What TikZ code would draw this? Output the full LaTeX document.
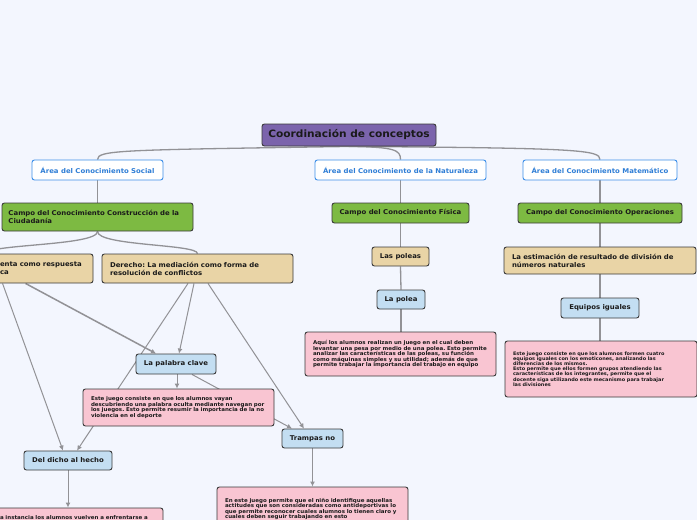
\documentclass[tikz,border=0pt]{standalone}
\usepackage{fontspec}
\setmainfont[FakeStretch=1.05]{DejaVu Sans}
\usetikzlibrary{arrows.meta}
\pgfdeclarelayer{bg}
\pgfdeclarelayer{lines}
\pgfsetlayers{bg,lines,main}
\definecolor{bgc}{HTML}{F3F6FE}
\definecolor{rootc}{HTML}{7B64AC}
\definecolor{areab}{HTML}{3C8EE8}
\definecolor{areat}{HTML}{2F7ED6}
\definecolor{greenc}{HTML}{7DBA42}
\definecolor{tanc}{HTML}{E9D4A6}
\definecolor{bluec}{HTML}{C3DEF2}
\definecolor{pinkc}{HTML}{F9C5D2}
\definecolor{bord}{HTML}{3A3A3A}
\definecolor{txt}{HTML}{1A1A1A}
\definecolor{linec}{HTML}{929296}
\newcommand\myfA{\fontsize{6.6}{8}\selectfont\bfseries}
\newcommand\myfP{\fontsize{5.25}{5.5}\selectfont\bfseries}
\newcommand\myfQ{\fontsize{4.75}{5.2}\selectfont\bfseries}
\frenchspacing
\begin{document}
\begin{tikzpicture}[x=1pt,y=-1pt,
  box/.style={rounded corners=2.5pt, line width=0.9pt, draw=bord, inner sep=0pt, text=txt},
  rootbox/.style={box, fill=rootc, minimum width=174pt, minimum height=22pt, font=\fontsize{10.1}{11}\selectfont\bfseries},
  areabox/.style={rounded corners=2.5pt, line width=0.9pt, draw=areab, fill=white, text=areat, inner sep=0pt, minimum height=20pt, font=\myfA},
  greenbox/.style={box, fill=greenc, font=\myfA},
  tanbox/.style={box, fill=tanc, font=\myfA},
  bluebox/.style={box, fill=bluec, font=\myfA},
  pinkbox/.style={box, fill=pinkc, font=\myfP, align=left, inner xsep=8pt},
  tree/.style={draw=linec, line width=1.3pt},
  arr/.style={draw=linec, line width=1pt, -{Latex[length=5pt,width=5pt]}}
]
\useasboundingbox (0,0) rectangle (697,520);
\clip (0,0) rectangle (697,520);

% level 0-1
\node[rootbox] (root) at (349,135) {Coordinación de conceptos};
\node[areabox, minimum width=131pt] (aS) at (97.5,170) {Área del Conocimiento Social};
\node[areabox, minimum width=171pt] (aN) at (400.5,170) {Área del Conocimiento de la Naturaleza};
\node[areabox, minimum width=154pt] (aM) at (600,170) {Área del Conocimiento Matemático};

% green
\node[greenbox, text width=178pt, inner xsep=6.5pt, align=left, minimum height=28pt] (gC) at (97.5,217) {Campo del Conocimiento Construcción de la\\Ciudadanía};
\node[greenbox, minimum width=137pt, minimum height=20pt] (gF) at (400.5,213) {Campo del Conocimiento Física};
\node[greenbox, minimum width=164pt, minimum height=20pt] (gO) at (600,213) {Campo del Conocimiento Operaciones};

% tan
\node[tanbox, text width=86pt, inner xsep=7pt, align=left, minimum height=29pt] (tL) at (43,268.5) {enta como respuesta\\ca};
\node[tanbox, text width=175pt, inner xsep=8pt, align=left, minimum height=29pt] (tD) at (197.5,268.5) {Derecho: La mediación como forma de\\resolución de conflictos};
\node[tanbox, minimum width=57pt, minimum height=19pt] (tP) at (400.5,256.5) {Las poleas};
\node[tanbox, text width=176pt, inner xsep=8pt, align=left, minimum height=27pt] (tE) at (600,260.5) {La estimación de resultado de división de\\números naturales};

% blue
\node[bluebox, minimum width=48pt, minimum height=19pt] (bPo) at (401,299.5) {La polea};
\node[bluebox, minimum width=78pt, minimum height=20pt] (bEq) at (600,308) {Equipos iguales};
\node[bluebox, minimum width=80pt, minimum height=20pt] (bPa) at (176,364) {La palabra clave};
\node[bluebox, minimum width=88pt, minimum height=19pt] (bDi) at (68,460.5) {Del dicho al hecho};
\node[bluebox, minimum width=61pt, minimum height=19pt] (bTr) at (312.5,438.5) {Trampas no};

% pink
\node[pinkbox, text width=175pt, minimum height=37pt] (pPa) at (178.5,407.5) {Este juego consiste en que los alumnos vayan\\descubriendo una palabra oculta mediante navegan por\\los juegos. Esto permite resumir la importancia de la no\\violencia en el deporte};
\node[pinkbox, text width=175pt, minimum height=44pt] (pPo) at (400.5,354) {Aquí los alumnos realizan un juego en el cual deben\\levantar una pesa por medio de una polea. Esto permite\\analizar las características de las poleas, su función\\como máquinas simples y su utilidad; además de que\\permite trabajar la importancia del trabajo en equipo};
\node[pinkbox, font=\myfQ, text width=176pt, minimum height=56pt] (pEq) at (601,369) {Este juego consiste en que los alumnos formen cuatro\\equipos iguales con los emoticones, analizando las\\diferencias de los mismos.\\Esto permite que ellos formen grupos atendiendo las\\características de los integrantes, permite que el\\docente siga utilizando este mecanismo para trabajar\\las divisiones};
\node[pinkbox, text width=175pt, minimum height=44pt] (pTr) at (312.5,509) {En este juego permite que el niño identifique aquellas\\actitudes que son consideradas como antideportivas lo\\que permite reconocer cuales alumnos lo tienen claro y\\cuales deben seguir trabajando en esto};
\node[pinkbox, text width=155pt, minimum height=20pt] (pDi) at (77.5,518) {a instancia los alumnos vuelven a enfrentarse a};

\coordinate (tLtop) at (-15,254);

\begin{pgfonlayer}{bg}
\fill[bgc] (-20,-20) rectangle (720,540);
\end{pgfonlayer}

\begin{pgfonlayer}{lines}
% curved tree lines
\draw[tree] (root.south) .. controls (120,150) and (97.5,150) .. (aS.north);
\draw[tree] (root.south) .. controls (395,147) and (400.5,150) .. (aN.north);
\draw[tree] (root.south) .. controls (580,148) and (600,150) .. (aM.north);
\draw[tree] (gC.south) .. controls (97.5,246) and (197.5,244) .. (tD.north);
\draw[tree] (gC.south) .. controls (97.5,246) and (-15,244) .. (tLtop);
% straight tree lines
\draw[tree] (aS.south) -- (gC.north);
\draw[tree] (aN.south) -- (gF.north);
\draw[tree] (gF.south) -- (tP.north);
\draw[tree] (tP.south) -- (bPo.north);
\draw[tree] (bPo.south) -- (bPo.south |- pPo.north);
\draw[tree] (aM.south) -- (gO.north);
\draw[tree] (gO.south) -- (tE.north);
\draw[tree] (tE.south) -- (bEq.north);
\draw[tree] (bEq.south) -- (bEq.south |- pEq.north);
% arrows
\draw[arr] ([xshift=10pt]tL.south west) -- ([xshift=-5pt]bDi.north);
\draw[arr, line width=1.5pt] ([xshift=33pt]tL.south west) -- ([xshift=-20pt]bPa.north);
\draw[arr] ([xshift=-3.5pt]tD.south) -- ([xshift=3pt]bPa.north);
\draw[arr] ([xshift=-9.5pt]tD.south) -- ([xshift=9pt]bDi.north);
\draw[arr] ([xshift=10.5pt]tD.south) -- ([xshift=-8.5pt]bTr.north);
\draw[arr] ([xshift=1pt]bPa.south) -- ([xshift=1pt]bPa.south |- pPa.north);
\draw[arr] ([xshift=16pt]bPa.south) -- ([xshift=-20.5pt]bTr.north);
\draw[arr] (bDi.south) -- (bDi.south |- pDi.north);
\draw[arr] (bTr.south) -- (bTr.south |- pTr.north);
\end{pgfonlayer}
\end{tikzpicture}
\end{document}
